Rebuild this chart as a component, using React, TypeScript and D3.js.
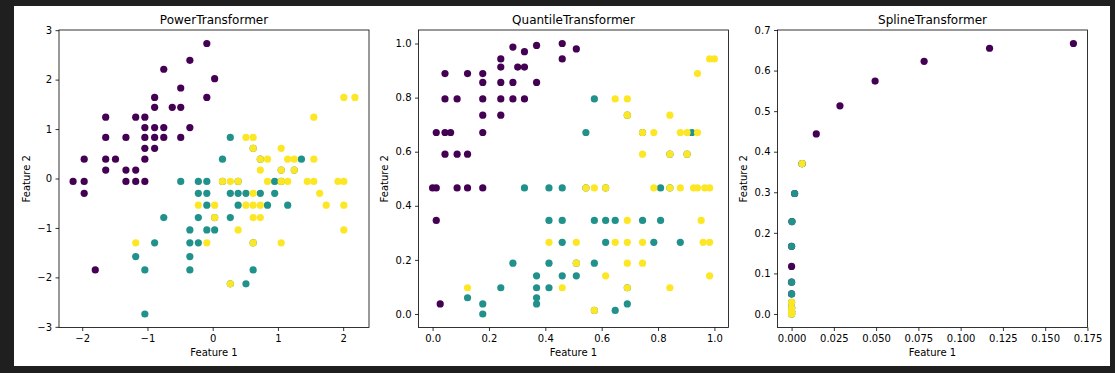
import React, { useRef, useEffect } from "react";
import * as d3 from "d3";

type Pt = [number, number];

// viridis at 0, 0.5, 1 (setosa, versicolor, virginica)
const classColors = ["#440154", "#21918c", "#fde725"];

// ---- PowerTransformer: [feature 1, feature 2] per class
const powerSetosa: Pt[] = [
  [-0.89, 1.03], [-1.18, -0.06], [-1.49, 0.39], [-1.64, 0.17], [-1.04, 1.24],
  [-0.49, 1.83], [-1.64, 0.83], [-1.04, 0.83], [-1.97, -0.3], [-1.18, 0.17],
  [-0.49, 1.44], [-1.33, 0.83], [-1.33, -0.06], [-2.14, -0.06], [0.03, 2.02],
  [-0.09, 2.73], [-0.09, 1.64], [-0.89, 1.64], [-0.49, 0.83], [-0.89, 1.44],
  [-1.64, 1.24], [-0.89, 0.61], [-1.04, -0.06], [-0.75, 1.03], [-0.75, 0.83],
  [-1.33, 0.17], [-0.75, 2.21], [-0.35, 2.39], [-1.04, 0.39], [-0.35, 1.03],
  [-1.18, 1.24], [-1.97, -0.06], [-0.89, 0.83], [-1.04, 1.03], [-1.8, -1.85],
  [-1.97, 0.39], [-1.64, 0.39], [-0.62, 1.44], [-1.04, 0.61],
];
const powerVersicolor: Pt[] = [
  [1.36, 0.39], [0.73, 0.39], [1.25, 0.17], [-0.35, -1.85], [0.84, -0.54],
  [-0.09, -0.54], [0.62, 0.61], [-1.18, -1.58], [0.95, -0.3], [-0.75, -0.79],
  [-1.04, -2.74], [0.15, -0.06], [0.27, -2.13], [0.39, -0.3], [-0.22, -0.3],
  [1.05, 0.17], [-0.22, -0.06], [0.03, -0.79], [0.51, -2.13], [-0.22, -1.3],
  [0.15, 0.39], [0.39, -0.54], [0.62, -1.3], [0.73, -0.3], [0.95, -0.06],
  [1.15, -0.54], [1.05, -0.06], [0.27, -0.3], [-0.09, -1.04], [-0.35, -1.58],
  [0.27, -0.79], [-0.49, -0.06], [0.27, 0.83], [0.62, -1.85], [-0.35, -1.3],
  [-0.35, -1.04], [0.39, -0.06], [0.03, -1.04], [-1.04, -1.85], [-0.22, -0.79],
  [-0.09, -0.06], [-0.09, -0.3], [0.51, -0.3], [-0.89, -1.3],
];
const powerVirginica: Pt[] = [
  [0.62, 0.61], [0.03, -0.79], [1.45, -0.06], [0.62, -0.3], [0.84, -0.06],
  [1.92, -0.06], [-1.18, -1.3], [1.64, -0.3], [1.05, -1.3], [1.55, 1.24],
  [0.84, 0.39], [0.73, -0.79], [1.15, -0.06], [-0.09, -1.3], [0.03, -0.54],
  [0.73, 0.39], [2.01, 1.64], [2.01, -1.04], [0.27, -2.13], [1.25, 0.39],
  [-0.22, -0.54], [2.01, -0.54], [0.62, -0.79], [1.05, 0.61], [1.55, 0.39],
  [0.51, -0.54], [0.39, -0.06], [0.73, -0.54], [1.55, -0.06], [1.74, -0.54],
  [2.18, 1.64], [0.62, -0.54], [0.39, -1.04], [2.01, -0.06], [0.62, 0.83],
  [0.73, 0.17], [0.27, -0.06], [1.25, 0.17], [1.05, 0.17], [1.15, 0.39],
  [1.05, -0.06], [0.62, -1.3], [0.51, 0.83], [0.15, -0.06],
];

// ---- QuantileTransformer
const quantileSetosa: Pt[] = [
  [0.242, 0.856], [0.124, 0.466], [0.064, 0.671], [0.044, 0.591], [0.178, 0.889],
  [0.326, 0.97], [0.044, 0.795], [0.178, 0.795], [0.013, 0.346], [0.124, 0.591],
  [0.326, 0.913], [0.087, 0.795], [0.087, 0.466], [0, 0.466], [0.51, 0.98],
  [0.46, 1.0], [0.46, 0.943], [0.242, 0.943], [0.326, 0.795], [0.242, 0.913],
  [0.044, 0.889], [0.242, 0.735], [0.178, 0.466], [0.285, 0.856], [0.285, 0.795],
  [0.087, 0.591], [0.285, 0.987], [0.369, 0.993], [0.178, 0.671], [0.369, 0.856],
  [0.124, 0.889], [0.013, 0.466], [0.242, 0.795], [0.178, 0.856], [0.027, 0.037],
  [0.013, 0.671], [0.044, 0.671], [0.302, 0.913], [0.178, 0.735],
];
const quantileVersicolor: Pt[] = [
  [0.92, 0.671], [0.745, 0.671], [0.903, 0.591], [0.369, 0.037], [0.785, 0.265],
  [0.46, 0.265], [0.691, 0.735], [0.124, 0.06], [0.809, 0.346], [0.285, 0.188],
  [0.178, 0], [0.544, 0.466], [0.574, 0.013], [0.614, 0.346], [0.413, 0.346],
  [0.842, 0.591], [0.413, 0.466], [0.51, 0.188], [0.648, 0.013], [0.413, 0.097],
  [0.544, 0.671], [0.614, 0.265], [0.691, 0.097], [0.745, 0.346], [0.809, 0.466],
  [0.879, 0.265], [0.842, 0.466], [0.574, 0.346], [0.46, 0.141], [0.369, 0.06],
  [0.574, 0.188], [0.326, 0.466], [0.574, 0.795], [0.691, 0.037], [0.369, 0.097],
  [0.369, 0.141], [0.614, 0.466], [0.51, 0.141], [0.178, 0.037], [0.413, 0.188],
  [0.46, 0.466], [0.46, 0.346], [0.648, 0.346], [0.242, 0.097],
];
const quantileVirginica: Pt[] = [
  [0.691, 0.735], [0.51, 0.188], [0.926, 0.466], [0.691, 0.346], [0.785, 0.466],
  [0.966, 0.466], [0.124, 0.097], [0.953, 0.346], [0.842, 0.097], [0.94, 0.889],
  [0.785, 0.671], [0.745, 0.188], [0.879, 0.466], [0.46, 0.097], [0.51, 0.265],
  [0.745, 0.671], [0.983, 0.943], [0.983, 0.141], [0.574, 0.013], [0.903, 0.671],
  [0.413, 0.265], [0.983, 0.265], [0.691, 0.188], [0.842, 0.735], [0.94, 0.671],
  [0.648, 0.265], [0.614, 0.466], [0.745, 0.265], [0.94, 0.466], [0.96, 0.265],
  [1.0, 0.943], [0.691, 0.265], [0.614, 0.141], [0.983, 0.466], [0.691, 0.795],
  [0.745, 0.591], [0.574, 0.466], [0.903, 0.591], [0.842, 0.591], [0.879, 0.671],
  [0.842, 0.466], [0.691, 0.097], [0.648, 0.795], [0.544, 0.466],
];

// ---- SplineTransformer
const splineSetosa: Pt[] = [
  [0.1667, 0.6667], [0.1171, 0.655], [0.0784, 0.6228], [0.0494, 0.5741],
  [0.0286, 0.513], [0.0146, 0.4438], [0.0062, 0.3704], [0.0018, 0.297],
  [0.0002, 0.2277], [0, 0.1667], [0, 0.1171], [0, 0.0784], [0, 0.0494],
  [0, 0.0146], [0, 0.0062],
];
const splineVersicolor: Pt[] = [
  [0.0062, 0.3704], [0.0018, 0.297], [0.0002, 0.2277], [0, 0.1667], [0, 0.0784],
  [0, 0.0494], [0, 0.0286], [0, 0.0146], [0, 0.0062], [0, 0.0018], [0, 0.0002], [0, 0],
];
const splineVirginica: Pt[] = [
  [0.0062, 0.3704], [0, 0.0286], [0, 0.0146], [0, 0.0062], [0, 0.0018], [0, 0.0002], [0, 0],
];

// ---- axis ticks
const powerXTicks = [-2, -1, 0, 1, 2];
const powerYTicks = [-3, -2, -1, 0, 1, 2, 3];
const quantileTicks = [0, 0.2, 0.4, 0.6, 0.8, 1.0];
const splineXTicks = [0, 0.025, 0.05, 0.075, 0.1, 0.125, 0.15, 0.175];
const splineYTicks = [0, 0.1, 0.2, 0.3, 0.4, 0.5, 0.6, 0.7];

const FONT = "DejaVu Sans, sans-serif";
const PANEL_W = 310;
const PANEL_H = 297.5;
const PANEL_TOP = 30;

// matplotlib style autoscale: data extent padded by 5%
const padded = (groups: Pt[][], k: 0 | 1): [number, number] => {
  const all = groups.flat();
  const lo = d3.min(all, (d) => d[k])!;
  const hi = d3.max(all, (d) => d[k])!;
  const m = (hi - lo) * 0.05;
  return [lo - m, hi + m];
};

interface PanelProps {
  title: string;
  groups: Pt[][];
  xTicks: number[];
  yTicks: number[];
  xFormat: string;
  yFormat: string;
  left: number;
  labelGap: number;
}

const Panel: React.FC<PanelProps> = ({
  title,
  groups,
  xTicks,
  yTicks,
  xFormat,
  yFormat,
  left,
  labelGap,
}) => {
  const gRef = useRef<SVGGElement | null>(null);

  useEffect(() => {
    const g = d3.select(gRef.current);
    g.selectAll("*").remove();

    const x = d3.scaleLinear().domain(padded(groups, 0)).range([0, PANEL_W]);
    const y = d3.scaleLinear().domain(padded(groups, 1)).range([PANEL_H, 0]);

    // points, class by class so later classes sit on top
    groups.forEach((pts, i) => {
      g.append("g")
        .selectAll("circle")
        .data(pts)
        .join("circle")
        .attr("cx", (d) => x(d[0]))
        .attr("cy", (d) => y(d[1]))
        .attr("r", 3.6)
        .attr("fill", classColors[i]);
    });

    // frame
    g.append("rect")
      .attr("width", PANEL_W)
      .attr("height", PANEL_H)
      .attr("fill", "none")
      .attr("stroke", "#000")
      .attr("stroke-width", 0.8);

    const xAxis = d3
      .axisBottom(x)
      .tickValues(xTicks)
      .tickFormat(d3.format(xFormat) as any)
      .tickSize(3.5)
      .tickPadding(3.5);
    const gx = g
      .append("g")
      .attr("transform", `translate(0,${PANEL_H})`)
      .call(xAxis);

    const yAxis = d3
      .axisLeft(y)
      .tickValues(yTicks)
      .tickFormat(d3.format(yFormat) as any)
      .tickSize(3.5)
      .tickPadding(3.5);
    const gy = g.append("g").call(yAxis);

    [gx, gy].forEach((a) => {
      a.select(".domain").remove();
      a.attr("font-family", FONT).attr("font-size", 10);
      a.selectAll("line").attr("stroke-width", 0.8);
      a.selectAll("text").attr("fill", "#000");
    });

    // title
    g.append("text")
      .attr("x", PANEL_W / 2)
      .attr("y", -6)
      .attr("text-anchor", "middle")
      .attr("font-family", FONT)
      .attr("font-size", 12)
      .text(title);

    // x label
    g.append("text")
      .attr("x", PANEL_W / 2)
      .attr("y", PANEL_H + 28.5)
      .attr("text-anchor", "middle")
      .attr("font-family", FONT)
      .attr("font-size", 10)
      .text("Feature 1");

    // y label
    g.append("text")
      .attr("transform", `translate(${-labelGap},${PANEL_H / 2}) rotate(-90)`)
      .attr("text-anchor", "middle")
      .attr("font-family", FONT)
      .attr("font-size", 10)
      .text("Feature 2");
  }, [title, groups, xTicks, yTicks, xFormat, yFormat, labelGap]);

  return <g ref={gRef} transform={`translate(${left},${PANEL_TOP})`} />;
};

const App: React.FC = () => {
  return (
    <svg
      width={1115}
      height={373}
      style={{ position: "absolute", left: 0, top: 0, display: "block" }}
    >
      <rect width={1115} height={373} fill="#1f1f1f" />
      <rect x={14} y={6} width={1096} height={360} fill="#fff" />
      <Panel
        title="PowerTransformer"
        groups={[powerSetosa, powerVersicolor, powerVirginica]}
        xTicks={powerXTicks}
        yTicks={powerYTicks}
        xFormat=".0f"
        yFormat=".0f"
        left={59}
        labelGap={29}
      />
      <Panel
        title="QuantileTransformer"
        groups={[quantileSetosa, quantileVersicolor, quantileVirginica]}
        xTicks={quantileTicks}
        yTicks={quantileTicks}
        xFormat=".1f"
        yFormat=".1f"
        left={418.5}
        labelGap={31}
      />
      <Panel
        title="SplineTransformer"
        groups={[splineSetosa, splineVersicolor, splineVirginica]}
        xTicks={splineXTicks}
        yTicks={splineYTicks}
        xFormat=".3f"
        yFormat=".1f"
        left={777.5}
        labelGap={30.5}
      />
    </svg>
  );
};

export default App;
